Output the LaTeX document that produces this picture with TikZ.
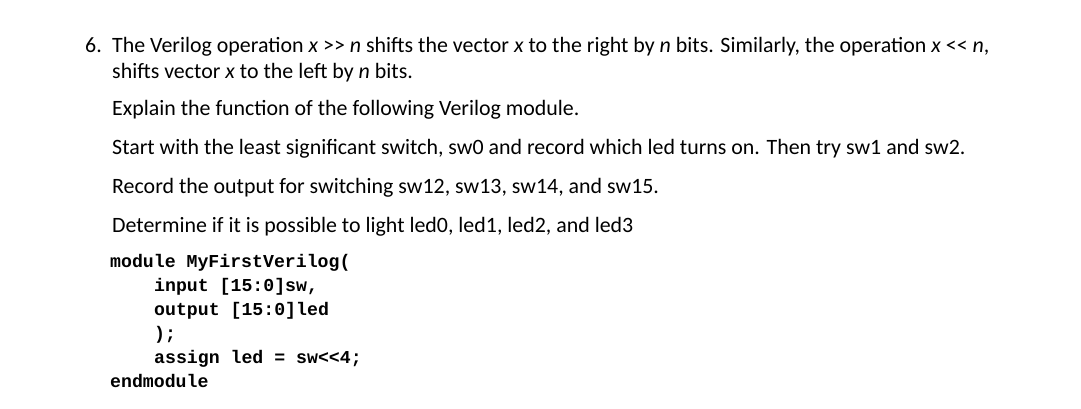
\documentclass[tikz,border=0pt]{standalone}
\usepackage{fontspec}
\setmainfont{Carlito}
\newfontfamily\codefont{Liberation Mono}
\begin{document}
\begin{tikzpicture}[x=1pt,y=-1pt,
  txt/.style={anchor=base west,inner sep=0pt,font=\fontsize{21.9}{26}\selectfont},
  code/.style={anchor=base west,inner sep=0pt,font=\codefont\bfseries\fontsize{18.2}{20}\selectfont}]
\useasboundingbox (0,0) rectangle (1081,408);
\node[txt] (n6) at (85,52) {6.};
\node[txt] (l1) at (112,52) {The Verilog operation \textit{x} {>}{>} \textit{n} shifts the vector \textit{x} to the right by \textit{n} bits. Similarly, the operation \textit{x} {<}{<} \textit{n},};
\node[txt] (l2) at (112,78) {shifts vector \textit{x} to the left by \textit{n} bits.};
\node[txt] (l3) at (112,115) {Explain the function of the following Verilog module.};
\node[txt] (l4) at (112,154) {Start with the least significant switch, sw0 and record which led turns on. Then try sw1 and sw2.};
\node[txt] (l5) at (112,193) {Record the output for switching sw12, sw13, sw14, and sw15.};
\node[txt] (l6) at (112,232) {Determine if it is possible to light led0, led1, led2, and led3};
\node[code] (c1) at (110,267) {module MyFirstVerilog(};
\node[code] (c2) at (154,291) {input [15:0]sw,};
\node[code] (c3) at (154,315) {output [15:0]led};
\node[code] (c4) at (154,339) {);};
\node[code] (c5) at (154,363) {assign led = sw<<4;};
\node[code] (c6) at (110,387) {endmodule};
\end{tikzpicture}
\end{document}
